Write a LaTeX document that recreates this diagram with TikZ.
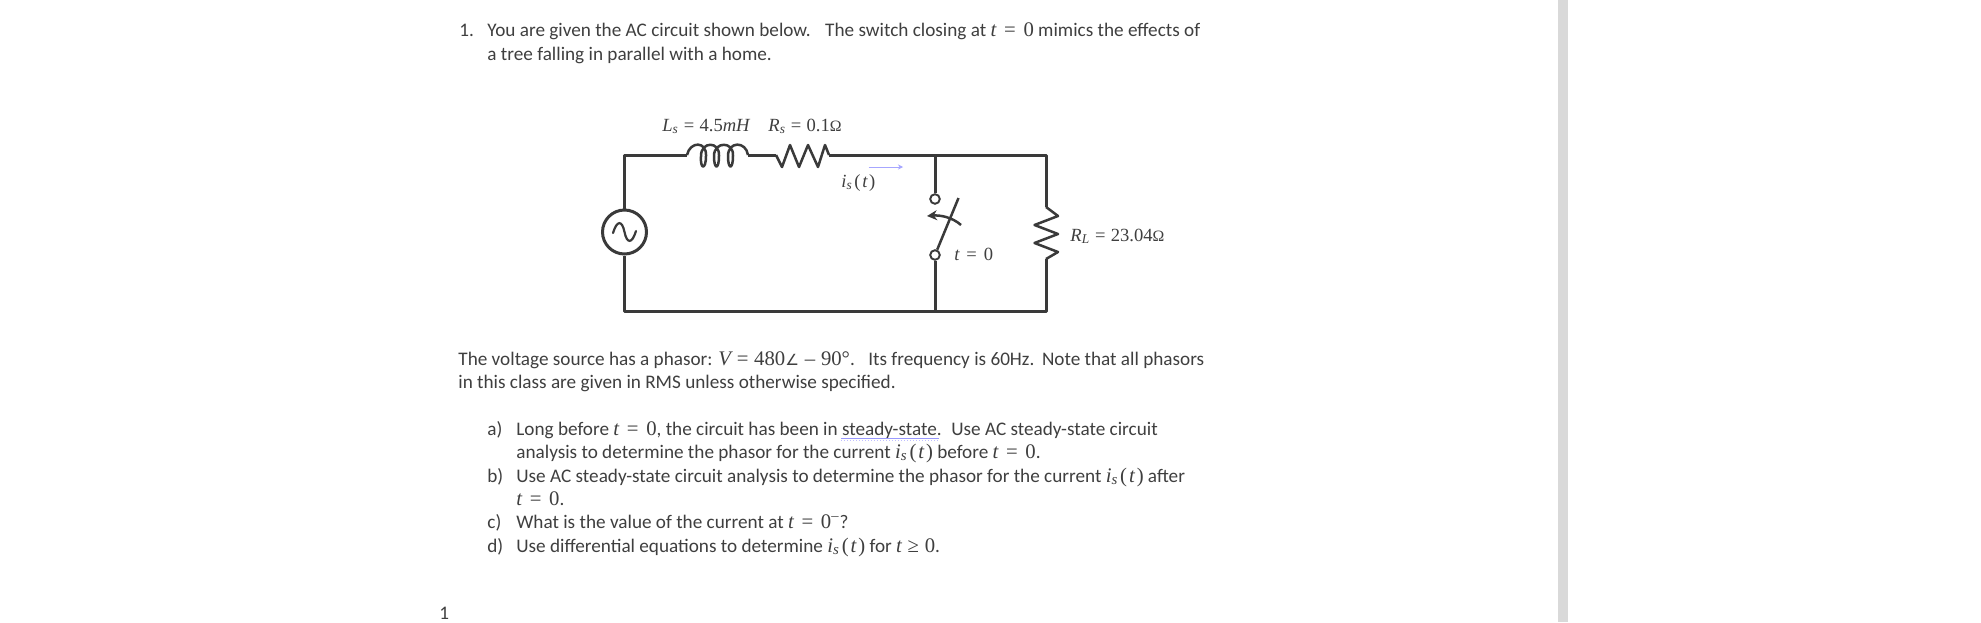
\documentclass[tikz,border=0pt]{standalone}
\usepackage{fontspec}
\usetikzlibrary{arrows.meta}
\setmainfont{Carlito}
\newfontfamily\mathser[Scale=1.08]{Liberation Serif}
\newfontfamily\symfnt{DejaVu Sans}
\newcommand{\mi}[1]{{\mathser\itshape #1}}
\newcommand{\mr}[1]{{\mathser #1}}
\newcommand{\subsc}[1]{\raisebox{-0.3ex}{\scalebox{0.72}{\mi{#1}}}\hspace{0.05em}}
\newcommand{\isoft}{\mi{i}\subsc{s}\hspace{0.1em}\mr{(}\hspace{0.1em}\mi{t}\hspace{0.1em}\mr{)}}
\newcommand{\eqsp}{\hspace{0.3em}}
\newcommand{\teq}[1]{\mi{t}\hspace{0.4em}\mr{=}\hspace{0.4em}\mr{#1}}
\newcommand{\ohm}{\scalebox{0.85}{\mr{Ω}}}
\definecolor{ink}{HTML}{3F3F3F}
\definecolor{wire}{HTML}{3A3A3A}
\definecolor{pagebar}{HTML}{D9D9D9}
\tikzset{
  txt/.style={anchor=base west,inner sep=0pt,text=ink,font=\fontsize{9.6}{11}\selectfont},
  lbl/.style={anchor=base west,inner sep=0pt,text=ink,font=\fontsize{8.6}{10}\selectfont},
  wireline/.style={draw=wire,line width=1.5pt,line join=round},
  thinpart/.style={draw=wire,line width=1.25pt,line join=round},
  terminal/.style={circle,draw=wire,line width=0.95pt,fill=white,minimum size=4.8pt,inner sep=0pt},
  source/.style={circle,draw=wire,line width=1.5pt,fill=white,minimum size=22pt,inner sep=0pt},
}
\begin{document}
\begin{tikzpicture}[x=0.5pt,y=-0.5pt]
\useasboundingbox (0,0) rectangle (1981,622);
\fill[white] (0,0) rectangle (1981,622);
\fill[pagebar] (1558,0) rectangle (1568,622);
% text
\node[txt] (a1) at (459,36) {1.};
\node[txt] (a2) at (487,36) {You are given the AC circuit shown below.\hspace{0.75em}The switch closing at \teq{0} mimics the effects of};
\node[txt] (a3) at (487,60) {a tree falling in parallel with a home.};
\node[txt] (b1) at (458,365) {The voltage source has a phasor: \mi{V}\eqsp\mr{=}\eqsp\mr{480}{\symfnt\scalebox{0.8}{∠}}\eqsp\mr{–}\eqsp\mr{90°}.\hspace{0.7em}Its frequency is 60Hz.\hspace{0.4em}Note that all phasors};
\node[txt] (b2) at (458,388) {in this class are given in RMS unless otherwise specified.};
\node[txt] (c1) at (487,435) {a)};
\node[txt] (c2) at (516,435) {Long before \teq{0}, the circuit has been in steady-state.\hspace{0.5em}Use AC steady-state circuit};
\node[txt] (c3) at (516,458) {analysis to determine the phasor for the current \isoft{} before \teq{0}.};
\node[txt] (d1) at (487,482) {b)};
\node[txt] (d2) at (516,482) {Use AC steady-state circuit analysis to determine the phasor for the current \isoft{} after};
\node[txt] (d3) at (516,505) {\teq{0}.};
\node[txt] (e1) at (487,528) {c)};
\node[txt] (e2) at (516,528) {What is the value of the current at \teq{0}\textsuperscript{\mr{–}}?};
\node[txt] (f1) at (487,552) {d)};
\node[txt] (f2) at (516,552) {Use differential equations to determine \isoft{} for \mi{t}\eqsp\mr{≥}\eqsp\mr{0}.};
\node[txt] (pg) at (439,619) {1};
\draw[draw=blue!40!white,line width=0.6pt] (841,438.5) -- (939,438.5);
\draw[draw=blue!25!white,line width=0.5pt,densely dotted] (841,440.5) -- (939,440.5);
% circuit
\coordinate (tl) at (624.5,155);
\coordinate (tj) at (935,155);
\coordinate (tr) at (1046,155);
\coordinate (bl) at (624.5,311);
\coordinate (bj) at (935,311);
\coordinate (br) at (1046,311);
\coordinate (lin) at (687,155);
\coordinate (lout) at (748,155);
\coordinate (rin) at (776,155);
\coordinate (rout) at (829,155);
\coordinate (rlt) at (1046,207);
\coordinate (rlb) at (1046,259);
\node[source] (src) at (624.5,232) {};
\node[terminal] (swt) at (935,199) {};
\node[terminal] (swb) at (935,255) {};
\draw[wireline] (src) -- (tl) -- (lin);
\draw[wireline] (lout) -- (rin);
\draw[wireline] (rout) -- (tj) -- (tr) -- (rlt);
\draw[wireline] (rlb) -- (br) -- (bj) -- (bl) -- (src);
\draw[wireline] (tj) -- (swt);
\draw[wireline] (swb) -- (bj);
% inductor
\draw[thinpart] (lin) .. controls (690,141) and (707,141) .. (706,156)
  .. controls (706,170) and (700,170) .. (701,156)
  .. controls (701,141) and (720,141) .. (719,156)
  .. controls (719,170) and (714,170) .. (714,156)
  .. controls (714,141) and (734,141) .. (733,156)
  .. controls (733,170) and (728,170) .. (728,156)
  .. controls (728,141) and (746,141) .. (lout);
% series resistor
\draw[thinpart] (rin) -- (782,167) -- (790,145) -- (799,167) -- (808,145) -- (818,167) -- (825,145) -- (rout);
% load resistor
\draw[thinpart] (rlt) -- (1058,216) -- (1034.5,225) -- (1058,234) -- (1034.5,243) -- (1058,252) -- (rlb);
% source sine
\draw[wire,line width=1.1pt,line cap=round] (613,233) .. controls (617,220) and (622,220) .. (624.5,232) .. controls (627,244) and (632,244) .. (636,231);
% switch
\coordinate (bladetop) at (958.5,198);
\draw[thinpart] (swb) -- (bladetop);
\coordinate (arrstart) at (961,225);
\coordinate (arrend) at (927,216);
\draw[thinpart,-{Stealth[length=5pt,width=5pt]}] (arrstart) .. controls (952,217) and (940,215) .. (arrend);
% current arrow
\coordinate (ia) at (868.5,167);
\coordinate (ib) at (903,167);
\draw[draw=blue!35!white,line width=0.35pt,-{Stealth[length=2.5pt,width=2.5pt]}] (ia) -- (ib);
% labels
\node[lbl] (ls) at (662,131) {\mi{L}\subsc{s}\eqsp\mr{=}\eqsp\mr{4.5}\mi{mH}};
\node[lbl] (rs) at (768,131) {\mi{R}\subsc{s}\eqsp\mr{=}\eqsp\mr{0.1}\ohm};
\node[lbl] (is) at (841,187) {\isoft};
\node[lbl] (t0) at (954,260) {\teq{0}};
\node[lbl] (rl) at (1070,241) {\mi{R}\subsc{L}\eqsp\mr{=}\eqsp\mr{23.04}\ohm};
\end{tikzpicture}
\end{document}
